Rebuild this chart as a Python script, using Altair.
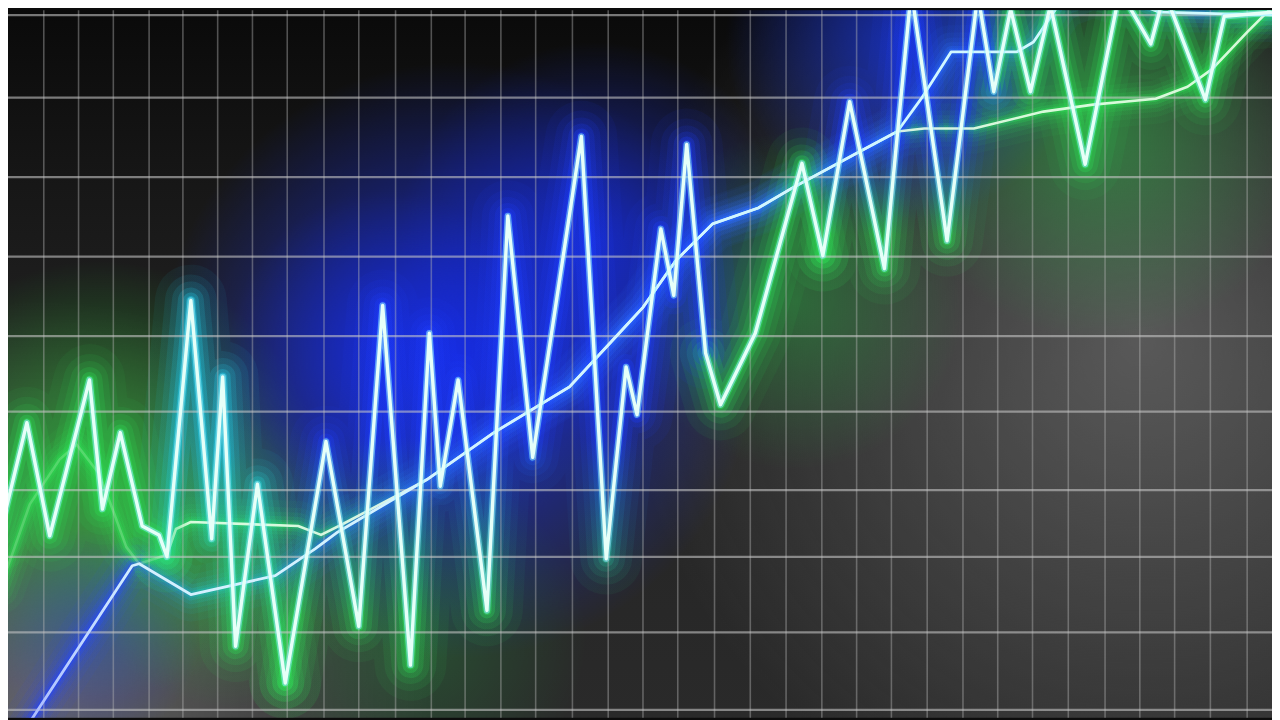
import altair as alt
import pandas as pd

# ---------------- data (x = time position, level = height above the bottom edge) -------------
JAG_T = [0, 27, 50, 90, 103, 121, 143, 160, 168, 192,
         213, 224, 237, 259, 287, 328, 361, 385, 413, 432,
         443, 461, 490, 511, 536, 585, 610, 630, 641, 665,
         678, 691, 710, 725, 760, 807, 828, 855, 890, 917,
         953, 984, 1000, 1017, 1037, 1057, 1092, 1127, 1158, 1172,
         1213, 1232, 1280]
JAG_LEVEL = [185, 297, 183, 340, 210, 287, 193, 184, 162, 420,
             180, 343, 72, 235, 35, 278, 92, 415, 53, 387,
             233, 340, 108, 505, 262, 585, 160, 353, 305, 492,
             425, 577, 367, 315, 387, 558, 465, 620, 452, 732,
             480, 728, 630, 713, 630, 717, 557, 732, 678, 730,
             622, 706, 710]
# glow tint of stretches of the jagged line: (tint, first point, last point)
JAG_RUNS = [("green", 0, 8), ("cg", 8, 14), ("bg", 14, 32), ("green", 32, 36),
            ("bg", 36, 42), ("green", 42, 52)]

T1_T = [25, 133, 140, 192, 277, 317, 340, 430, 497, 573, 623, 647, 680, 717, 763,
        797, 860, 903, 927, 957, 1023, 1040, 1067, 1100, 1140, 1167, 1280]
T1_LEVEL = [-12, 153, 155, 124, 143, 170, 187, 240, 287, 333, 387, 413, 460, 497, 513,
            533, 567, 590, 623, 670, 670, 680, 720, 732, 720, 710, 707]

T2_T = [0, 30, 60, 77, 100, 115, 127, 140, 168, 177, 192, 300, 323, 345, 430, 497, 573,
        623, 647, 680, 717, 763, 797, 860, 903, 930, 980, 1050, 1100, 1163, 1195, 1220,
        1255, 1285]
T2_LEVEL = [130, 215, 260, 275, 245, 205, 172, 155, 164, 190, 197, 193, 184, 195, 240, 287,
            333, 387, 413, 460, 497, 513, 533, 567, 590, 593, 593, 610, 617, 623, 635, 653,
            690, 720]

GRID_T = [7, 44, 79, 114, 150, 184, 219, 254, 289, 326, 361, 398, 434, 468, 504, 539,
          576, 612, 647, 682, 719, 755, 791, 827, 862, 897, 933, 969, 1004, 1039, 1075,
          1112, 1147, 1182, 1218, 1255]
GRID_LEVEL = [707, 624, 544, 464, 384, 308, 229, 162, 86, 8]

# ---------------- styles ----------------
W, H = 1272, 712
XS = alt.Scale(domain=[8, 1280], nice=False, zero=False)
YS = alt.Scale(domain=[0, 712], nice=False, zero=False)

GREEN = "#2ee055"
BLUE = "#1c3cff"
CYAN = "#20c8e6"

# soft light pools: (centre x, centre level, radius, rgb, alpha)
HAZE_GRAY = [(1150, 380, 520, (135, 135, 135), 0.55),
             (40, 20, 400, (140, 140, 140), 0.6)]
HAZE_COLOR = [(100, 240, 220, (40, 205, 50), 0.6),
              (230, 160, 150, (40, 200, 60), 0.35),
              (460, 360, 300, (20, 45, 255), 0.8),
              (390, 370, 160, (20, 45, 255), 0.5),
              (600, 480, 200, (20, 45, 255), 0.6),
              (90, 80, 110, (30, 50, 255), 0.35),
              (800, 420, 170, (40, 190, 70), 0.4),
              (910, 680, 180, (20, 55, 255), 0.65),
              (1110, 590, 210, (40, 200, 70), 0.45),
              (420, 80, 170, (40, 190, 80), 0.25)]


def lin(stops, vertical=False):
    return alt.LinearGradient(
        gradient="linear",
        stops=[alt.GradientStop(offset=o, color=c) for o, c in stops],
        x1=0, x2=0 if vertical else 1, y1=0, y2=1 if vertical else 0)


def blob(cx, cl, r, rgb, a):
    rr, gg, bb = rgb
    grad = alt.RadialGradient(
        gradient="radial",
        stops=[alt.GradientStop(offset=0, color=f"rgba({rr},{gg},{bb},{a})"),
               alt.GradientStop(offset=0.5, color=f"rgba({rr},{gg},{bb},{a * 0.5})"),
               alt.GradientStop(offset=1, color=f"rgba({rr},{gg},{bb},0)")],
        x1=0.5, y1=0.5, r1=0, x2=0.5, y2=0.5, r2=0.5)
    df = pd.DataFrame({"x0": [cx - r], "x1": [cx + r], "y0": [cl - r], "y1": [cl + r]})
    return alt.Chart(df).mark_rect(fill=grad, clip=True).encode(
        x=alt.X("x0:Q", scale=XS, axis=None), x2="x1:Q",
        y=alt.Y("y0:Q", scale=YS, axis=None), y2="y1:Q")


def xenc():
    return alt.X("t:Q", scale=XS, axis=None)


def yenc():
    return alt.Y("level:Q", scale=YS, axis=None)


layers = []

# base background
base_df = pd.DataFrame({"x0": [8], "x1": [1280], "y0": [0], "y1": [712]})
layers.append(alt.Chart(base_df).mark_rect(
    fill=lin([(0, "#0a0a0a"), (0.25, "#171717"), (0.55, "#242424"), (1, "#2a2a2a")], vertical=True)
).encode(x=alt.X("x0:Q", scale=XS, axis=None), x2="x1:Q",
         y=alt.Y("y0:Q", scale=YS, axis=None), y2="y1:Q"))

for h in HAZE_GRAY + HAZE_COLOR:
    layers.append(blob(*h))

# data frames
jag_df = pd.DataFrame({"t": JAG_T, "level": JAG_LEVEL})
run_rows = []
for k, (g, a, b) in enumerate(JAG_RUNS):
    for j in range(a, b + 1):
        run_rows.append({"run": k, "t": JAG_T[j], "level": JAG_LEVEL[j], "glow": g})
run_df = pd.DataFrame(run_rows)
t1_df = pd.DataFrame({"t": T1_T, "level": T1_LEVEL})
t2_df = pd.DataFrame({"t": T2_T, "level": T2_LEVEL})

GLOW_WIDTHS = [(72, 0.06), (52, 0.09), (38, 0.12), (26, 0.18), (16, 0.28), (9, 0.45)]

t1_glow = lin([(0, "#2040ff"), (0.09, "#2a50ff"), (0.14, "#20c0c0"), (0.24, "#2a60ff"),
               (0.7, "#2a70ff"), (1, "#2a90ff")])
t2_glow = lin([(0, GREEN), (0.26, GREEN), (0.33, "#2a6cff"), (0.68, "#2a6cff"),
               (0.72, GREEN), (1, GREEN)])

for w, a in GLOW_WIDTHS:
    layers.append(alt.Chart(t2_df).mark_line(
        stroke=t2_glow, strokeWidth=w * 0.7, opacity=a * 0.8, strokeCap="round",
        strokeJoin="round", clip=True).encode(x=xenc(), y=yenc()))
    layers.append(alt.Chart(t1_df).mark_line(
        stroke=t1_glow, strokeWidth=w * 0.75, opacity=a * 0.95, strokeCap="round",
        strokeJoin="round", clip=True).encode(x=xenc(), y=yenc()))

GLOW_STYLE = {
    "green": GREEN,
    "bg": lin([(0, BLUE), (0.55, BLUE), (0.88, GREEN), (1, GREEN)], vertical=True),
    "cg": lin([(0, CYAN), (0.4, CYAN), (0.9, GREEN), (1, GREEN)], vertical=True),
}
for w, a in GLOW_WIDTHS:
    for g, style in GLOW_STYLE.items():
        layers.append(alt.Chart(run_df).transform_filter(alt.datum.glow == g).mark_line(
            stroke=style, strokeWidth=w, opacity=a, strokeCap="round", strokeJoin="round",
            clip=True).encode(x=xenc(), y=yenc(), detail="run:N"))

# grid
layers.append(alt.Chart(pd.DataFrame({"t": GRID_T})).mark_rule(
    color="#b4b4b4", strokeWidth=1.6, opacity=0.42).encode(x=xenc()))
layers.append(alt.Chart(pd.DataFrame({"level": GRID_LEVEL})).mark_rule(
    color="#c8c8c8", strokeWidth=2.3, opacity=0.58).encode(y=yenc()))

# bright cores
layers.append(alt.Chart(t2_df).mark_line(
    stroke=lin([(0, "rgba(200,255,200,0.25)"), (0.12, "rgba(200,255,200,0.3)"),
                (0.15, "#e6ffe6"), (1, "#e6ffe6")]),
    strokeWidth=2.6, opacity=0.92, strokeJoin="round", clip=True
).encode(x=xenc(), y=yenc()))
layers.append(alt.Chart(t1_df).mark_line(
    stroke=lin([(0, "#a8b8ff"), (0.09, "#d4f0ff"), (1, "#cffaff")]), strokeWidth=2.8,
    strokeJoin="round", clip=True).encode(x=xenc(), y=yenc()))
layers.append(alt.Chart(jag_df).mark_line(
    stroke="#8ff0ff", strokeWidth=6.5, opacity=0.55, strokeJoin="round", clip=True
).encode(x=xenc(), y=yenc()))
layers.append(alt.Chart(jag_df).mark_line(
    stroke="#e6fff8", strokeWidth=3.4, strokeJoin="round", clip=True
).encode(x=xenc(), y=yenc()))

chart = alt.layer(*layers).properties(
    width=W, height=H, padding=0,
    autosize=alt.AutoSizeParams(type="none"),
    background="#0c0c0c",
).configure_view(stroke=None)

chart.save("out.html", embed_options={"renderer": "svg", "actions": False})
